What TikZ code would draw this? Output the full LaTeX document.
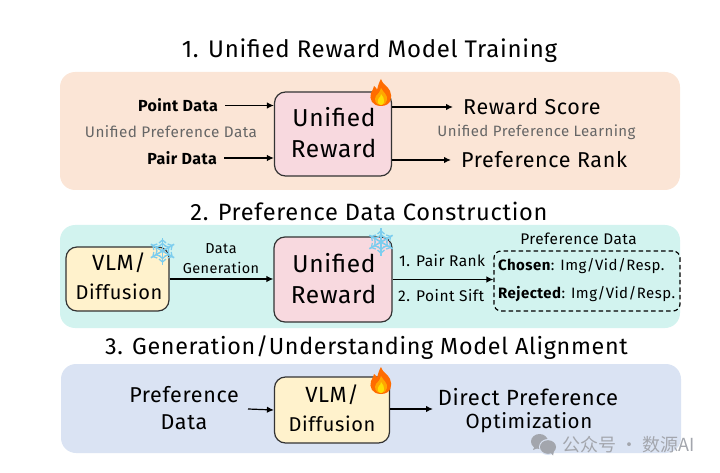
\documentclass[tikz,border=0pt]{standalone}
\usepackage{fontspec}
\setmainfont{Fira Sans}[LetterSpace=3]
\newfontfamily\cjk{Noto Sans CJK SC}
\usetikzlibrary{arrows.meta,calc}
\definecolor{panelA}{HTML}{FBE5D6}
\definecolor{panelB}{HTML}{D2F3EF}
\definecolor{panelC}{HTML}{DAE3F3}
\definecolor{pinkbox}{HTML}{F8D9DF}
\definecolor{yellowbox}{HTML}{FFF2CC}
\definecolor{graytxt}{HTML}{666666}
\definecolor{ice}{HTML}{7CCDEE}
\definecolor{wm}{HTML}{A3A6AD}
\newcommand{\fsz}[1]{\fontsize{#1}{#1}\selectfont}
\tikzset{
  x=1pt,y=-1pt,
  panel/.style={fill=#1,draw=none,rounded corners=15pt},
  box/.style={fill=#1,draw=black!80,line width=1.2pt,rounded corners=11pt},
  lbl/.style={inner sep=0pt,align=center,text=black},
  arr/.style={-{Latex[length=7pt,width=6.5pt]},line width=1.2pt,black},
  pics/flame/.style={code={
    \fill[orange!85!red] (0,13) .. controls (-9,13) and (-12,6) .. (-10,0) .. controls (-9,-3) and (-7,-4) .. (-7,-7)
      .. controls (-5,-6) and (-4,-4) .. (-4,-3) .. controls (-3,-7) and (-2,-11) .. (0,-14)
      .. controls (1,-9) and (7,-7) .. (9,-2) .. controls (12,4) and (10,13) .. (0,13) -- cycle;
    \fill[orange!70!yellow] (0,12) .. controls (-6,12) and (-7,6) .. (-5,3) .. controls (-3,1) and (-1,-1) .. (0,-5)
      .. controls (2,-1) and (7,2) .. (6,7) .. controls (6,10) and (3,12) .. (0,12) -- cycle;
    \fill[yellow!80!orange] (0,12) .. controls (-4,12) and (-4,7) .. (-2,5) .. controls (-1,4) and (0,3) .. (0,1)
      .. controls (2,4) and (4,6) .. (3,9) .. controls (3,11) and (1,12) .. (0,12) -- cycle;
  }},
  pics/flake/.style={code={
    \foreach \a in {30,90,150,210,270,330}{
      \draw[ice,line width=1.6pt,rotate=\a] (0,0) -- (13.5,0);
      \draw[ice,line width=1.3pt,rotate=\a] (4.5,-3.5) -- (7.5,0) -- (4.5,3.5);
      \draw[ice,line width=1.3pt,rotate=\a] (8,-3.5) -- (11,0) -- (8,3.5);
    }
  }},
}
\begin{document}
\begin{tikzpicture}
\useasboundingbox (0,0) rectangle (720,473);
% panels
\path[panel=panelA] (60,72) rectangle (680,190);
\path[panel=panelB] (60,225) rectangle (680,328);
\path[panel=panelC] (61,364) rectangle (681,453);
% titles
\node[lbl] (t1) at (369.5,51) {\fsz{24}1. Unified Reward Model Training};
\node[lbl] (t2) at (369,211) {\fsz{23.6}2. Preference Data Construction};
\node[lbl] (t3) at (366.5,348) {\fsz{23.3}3. Generation/Understanding Model Alignment};
% panel 1
\node[box=pinkbox,minimum width=117pt,minimum height=84pt,inner sep=0pt] (ur1) at (333,134) {};
\node[lbl] (ur1a) at (334,117) {\fsz{24.5}Unified};
\node[lbl] (ur1b) at (333.5,148) {\fsz{24.5}Reward};
\node[lbl,anchor=east] (pd) at (218,105.5) {\fsz{16}\bfseries Point Data};
\node[lbl,anchor=east] (prd) at (217,158) {\fsz{16}\bfseries Pair Data};
\node[lbl,text=graytxt] (upd) at (171,132) {\fsz{15.3}Unified Preference Data};
\node[lbl,anchor=west] (rs) at (463,107) {\fsz{21.5}Reward Score};
\node[lbl,anchor=west] (pr) at (461,160) {\fsz{21.5}Preference Rank};
\node[lbl,text=graytxt] (upl) at (536.5,132) {\fsz{15}Unified Preference Learning};
\draw[arr] ($(pd.east)+(7,0)$) -- (pd.east -| ur1.west);
\draw[arr] ($(prd.east)+(7,0)$) -- (prd.east -| ur1.west);
\draw[arr] (ur1.east |- rs.west) -- ($(rs.west)+(-10,0)$);
\draw[arr] (ur1.east |- pr.west) -- ($(pr.west)+(-10,0)$);
\pic at (381,93) {flame};
% panel 2
\node[box=yellowbox,minimum width=103pt,minimum height=64pt,inner sep=0pt] (vlm2) at (117.5,279) {};
\node[lbl] (vlm2a) at (119,263) {\fsz{22}VLM/};
\node[lbl] (vlm2b) at (119,292) {\fsz{20}Diffusion};
\node[box=pinkbox,minimum width=118pt,minimum height=85pt,inner sep=0pt] (ur2) at (333,279.5) {};
\node[lbl] (ur2a) at (334,263) {\fsz{24.5}Unified};
\node[lbl] (ur2b) at (333.5,294) {\fsz{24.5}Reward};
\node[draw=black,dash pattern=on 4.5pt off 3pt,line width=1.2pt,rounded corners=7pt,minimum width=186pt,minimum height=60pt,inner sep=0pt] (dash) at (587,281) {};
\draw[arr] (vlm2.east) -- (vlm2.east -| ur2.west);
\draw[arr] (ur2.east) -- (ur2.east -| dash.west);
\node[lbl] (dg1) at (221,249) {\fsz{14.4}Data};
\node[lbl] (dg2) at (221,268) {\fsz{14.4}Generation};
\node[lbl,anchor=west] (pr1) at (399,261) {\fsz{15.5}1. Pair Rank};
\node[lbl,anchor=west] (pr2) at (398,296) {\fsz{15.5}2. Point Sift};
\node[lbl] (pdt) at (578.5,239) {\fsz{15.4}Preference Data};
\node[lbl,anchor=west] (ch) at (498,266) {\fsz{15}\textbf{Chosen}: Img/Vid/Resp.};
\node[lbl,anchor=west] (rj) at (498,294) {\fsz{15}\textbf{Rejected}: Img/Vid/Resp.};
\pic at (162.5,251) {flake};
\pic at (381,242) {flake};
% panel 3
\node[box=yellowbox,minimum width=115pt,minimum height=66pt,inner sep=0pt] (vlm3) at (332,410) {};
\node[lbl] (vlm3a) at (332,395) {\fsz{22}VLM/};
\node[lbl] (vlm3b) at (332,424) {\fsz{20}Diffusion};
\node[lbl] (pda) at (184,395) {\fsz{21.5}Preference};
\node[lbl] (pdb) at (184,422) {\fsz{21.5}Data};
\node[lbl] (do1) at (528,397) {\fsz{22}Direct Preference};
\node[lbl] (do2) at (529,423) {\fsz{20.5}Optimization};
\coordinate (pin) at (248,409);
\coordinate (dout) at (433,409);
\draw[arr] (pin) -- (vlm3.west);
\draw[arr] (vlm3.east |- dout) -- (dout);
\pic at (381,381) {flame};
% watermark
\fill[wm] (539.5,441.5) ellipse (8.5pt and 7.5pt);
\fill[wm] (533,450) -- (535,445) -- (538,448) -- cycle;
\fill[panelC] (548,447) ellipse (9pt and 8pt);
\fill[wm] (548,447) ellipse (8pt and 6.8pt);
\fill[wm] (553,455.5) -- (550,452) -- (554,451) -- cycle;
\node[lbl,text=wm,anchor=west] (wmt) at (562,444.5) {\cjk\fsz{18}公众号 · 数源AI};
\end{tikzpicture}
\end{document}
